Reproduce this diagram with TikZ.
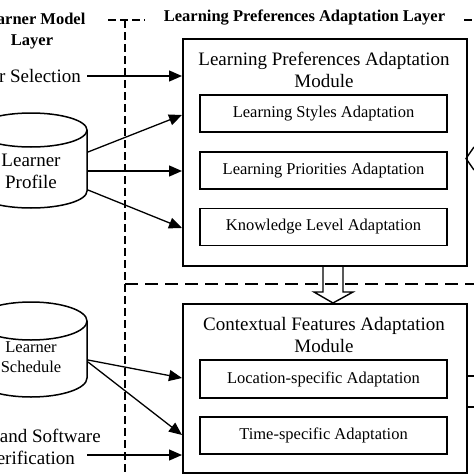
\documentclass[tikz,border=0pt]{standalone}
\usepackage{fontspec}
\setmainfont{Liberation Serif}
\usetikzlibrary{arrows.meta}
\begin{document}
\begin{tikzpicture}[x=1pt,y=-1pt,
  box/.style={draw, line width=1.6pt, inner sep=0pt},
  inbox/.style={draw, line width=1.4pt, minimum width=247pt, minimum height=37pt, inner sep=0pt, font=\fontsize{16.5}{19}\selectfont},
  arr/.style={line width=1.3pt, -{Triangle[length=13pt,width=11pt]}},
  lay/.style={line width=1.3pt, dash pattern=on 8pt off 4pt},
  hlay/.style={line width=1.3pt, dash pattern=on 13pt off 7pt},
  big/.style={font=\fontsize{19}{22}\selectfont, align=center, inner sep=0pt},
  mid/.style={font=\fontsize{16.5}{20}\selectfont, align=center, inner sep=0pt},
  ttl/.style={font=\bfseries\fontsize{16.5}{21}\selectfont, align=center, inner sep=0pt},
  cyl/.style={line width=1.5pt}]
\useasboundingbox (0,0) rectangle (474,474);

% layer borders
\draw[lay] (108,20) -- (145,20);
\draw[lay] (464,20) -- (480,20);
\draw[lay] (125,20) -- (125,480);
\draw[hlay] (125,284) -- (480,284);

% layer titles
\node[ttl] (t1) at (32,31) {Learner Model\\Layer};
\node[ttl] (t2) at (304.5,18) {Learning Preferences Adaptation Layer};

% Learning preferences module
\node[box, minimum width=284pt, minimum height=227pt, anchor=north west] (lpa) at (182,38) {};
\node[big] (lpat) at (324,69.5) {Learning Preferences Adaptation\\Module};
\node[inbox] (ls) at (323.5,113.5) {Learning Styles Adaptation};
\node[inbox] (lp) at (323.5,170.5) {Learning Priorities Adaptation};
\node[inbox] (kl) at (323.5,227) {Knowledge Level Adaptation};

% contextual features module
\node[box, minimum width=284pt, minimum height=169pt, anchor=north west] (cfa) at (182,303) {};
\node[big] (cfat) at (324,334.5) {Contextual Features Adaptation\\Module};
\node[inbox, minimum height=38pt] (loc) at (323.5,379) {Location-specific Adaptation};
\node[inbox] (tim) at (323.5,435.5) {Time-specific Adaptation};
\fill[gray!45] (183,473.5) rectangle (466,477);

% hollow block arrow between modules
\draw[line width=1.4pt, line join=miter] (323,265) -- (323,292) -- (314,292) -- (333,303) -- (353,292) -- (343,292) -- (343,265);

% right side partial arrows
\draw[line width=1.4pt] (474,147) -- (466,158.5) -- (474,170);
\draw[line width=1.4pt] (466,376) -- (480,376);
\draw[line width=1.4pt] (466,407) -- (480,407);

% Learner Profile cylinder
\draw[cyl, fill=white] (87,130) -- (87,191) arc[start angle=0, end angle=-180, x radius=56pt, y radius=17pt] -- (-25,130);
\draw[cyl] (31,130) ellipse [x radius=56pt, y radius=17pt];
\node[big] (prof) at (31,171) {Learner\\Profile};

% Learner Schedule cylinder
\draw[cyl, fill=white] (87,321) -- (87,378) arc[start angle=0, end angle=-180, x radius=56pt, y radius=19pt] -- (-25,321);
\draw[cyl] (31,321) ellipse [x radius=56pt, y radius=19pt];
\node[mid] (sch) at (31,357) {Learner\\Schedule};

% left labels
\node[big, anchor=east, inner xsep=6pt] (usel) at (87,76) {User Selection};
\node[big] (hsv) at (30,447) {User and Software\\Verification};

% connector endpoints
\coordinate (p1) at (88,152);
\coordinate (p2) at (88,171);
\coordinate (p3) at (88,190);
\coordinate (s1) at (88,360);
\coordinate (s2) at (88,362);
\coordinate (v0) at (87,455);
\coordinate (a0) at (182,76);
\coordinate (a1) at (182,115);
\coordinate (a2) at (182,171);
\coordinate (a3) at (182,228);
\coordinate (b1) at (182,378);
\coordinate (b2) at (182,435);
\coordinate (b3) at (182,455);

\draw[arr] (usel) -- (a0);
\draw[arr] (p1) -- (a1);
\draw[arr] (p2) -- (a2);
\draw[arr] (p3) -- (a3);
\draw[arr] (s1) -- (b1);
\draw[arr] (s2) -- (b2);
\draw[arr] (v0) -- (b3);
\end{tikzpicture}
\end{document}
